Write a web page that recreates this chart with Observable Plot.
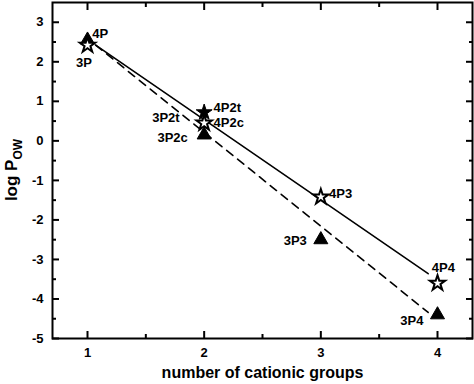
<!DOCTYPE html>
<html>
<head>
<meta charset="utf-8">
<script src="https://cdn.jsdelivr.net/npm/d3@7"></script>
<script src="https://cdn.jsdelivr.net/npm/@observablehq/plot@0.6"></script>
<style>
  html, body { margin: 0; padding: 0; background: #fff; }
</style>
</head>
<body>
<div id="chart"></div>
<script>
// ---- data ----
const groups = [1, 2, 3, 4];                       // number of cationic groups
const tri3P = [2.55, 0.15, -2.5, -4.4];            // filled triangles (3P series)
const star4P = [2.42, 0.45, -1.42, -3.6];          // open stars (4P series)
const filledStarX = [2];                           // 4P2t
const filledStarY = [0.72];
const solidFitX = [1.07, 3.92];                    // solid fit line end points
const solidFitY = [2.42, -3.36];
const dashedFitX = [1.07, 3.92];                   // dashed fit line end points
const dashedFitY = [2.42, -4.34];

const labelsStartText = ["4P", "4P2t", "4P2c", "4P3"];
const labelsStartX = [1.04, 2.08, 2.08, 3.07];
const labelsStartY = [2.70, 0.83, 0.45, -1.34];
const labelsEndText = ["3P2t", "3P2c", "3P3"];
const labelsEndX = [1.79, 1.86, 2.88];
const labelsEndY = [0.58, 0.08, -2.53];
const labelsMidText = ["3P", "4P4", "3P4"];
const labelsMidX = [0.97, 4.05, 3.78];
const labelsMidY = [1.97, -3.2, -4.55];

const xTicks = [1, 2, 3, 4];
const xMinor = [1.5, 2.5, 3.5];
const yTicks = [-5, -4, -3, -2, -1, 0, 1, 2, 3];
const yMinor = [-4.5, -3.5, -2.5, -1.5, -0.5, 0.5, 1.5, 2.5];

const xLabel = "number of cationic groups";
const yLabelMain = "log P";
const yLabelSub = "OW";

// ---- build tables ----
const pts = (xs, ys) => xs.map((x, i) => ({x, y: ys[i]}));
const labs = (t, xs, ys) => t.map((s, i) => ({text: s, x: xs[i], y: ys[i]}));

const fontFamily = "Liberation Sans, Arial, sans-serif";
const textStyle = {fontWeight: "bold", fontSize: 13, fill: "black", fontFamily};
const noText = () => "";

// inward tick marks (no labels) on every side
const inwardTicks = [];
for (const side of ["bottom", "top"]) {
  inwardTicks.push(Plot.axisX({ticks: xTicks, anchor: side, tickSize: -7, tickFormat: noText, strokeWidth: 2, stroke: "black", label: null}));
  inwardTicks.push(Plot.axisX({ticks: xMinor, anchor: side, tickSize: -4, tickFormat: noText, strokeWidth: 2, stroke: "black", label: null}));
}
for (const side of ["left", "right"]) {
  inwardTicks.push(Plot.axisY({ticks: yTicks, anchor: side, tickSize: -7, tickFormat: noText, strokeWidth: 2, stroke: "black", label: null}));
  inwardTicks.push(Plot.axisY({ticks: yMinor, anchor: side, tickSize: -4, tickFormat: noText, strokeWidth: 2, stroke: "black", label: null}));
}

const plot = Plot.plot({
  width: 474,
  height: 384,
  marginLeft: 52,
  marginRight: 2,
  marginTop: 2,
  marginBottom: 46,
  style: {fontFamily, background: "white"},
  x: {domain: [0.7, 4.3]},
  y: {domain: [-5, 3.5]},
  marks: [
    Plot.frame({stroke: "black", strokeWidth: 2}),
    ...inwardTicks,
    Plot.axisX({ticks: xTicks, tickSize: 0, tickPadding: 9, tickFormat: d => String(d),
      fontSize: 13, fontWeight: "bold", fill: "black", label: null}),
    Plot.axisY({ticks: yTicks, tickSize: 0, tickPadding: 9, tickFormat: d => String(d),
      fontSize: 13, fontWeight: "bold", fill: "black", label: null}),
    Plot.line(pts(solidFitX, solidFitY), {x: "x", y: "y", stroke: "black", strokeWidth: 1.6}),
    Plot.line(pts(dashedFitX, dashedFitY), {x: "x", y: "y", stroke: "black", strokeWidth: 1.6, strokeDasharray: "8,6"}),
    Plot.dot(pts(groups, tri3P), {x: "x", y: "y", symbol: "triangle", r: 5.2, fill: "black", stroke: "black", strokeWidth: 1}),
    Plot.dot(pts(filledStarX, filledStarY), {x: "x", y: "y", symbol: "star", r: 5, fill: "black", stroke: "black", strokeWidth: 1}),
    Plot.dot(pts(groups, star4P), {x: "x", y: "y", symbol: "star", r: 4.8, fill: "white", stroke: "black", strokeWidth: 2}),
    Plot.text(labs(labelsStartText, labelsStartX, labelsStartY), {x: "x", y: "y", text: "text", textAnchor: "start", ...textStyle}),
    Plot.text(labs(labelsEndText, labelsEndX, labelsEndY), {x: "x", y: "y", text: "text", textAnchor: "end", ...textStyle}),
    Plot.text(labs(labelsMidText, labelsMidX, labelsMidY), {x: "x", y: "y", text: "text", textAnchor: "middle", ...textStyle}),
    Plot.text([xLabel], {frameAnchor: "bottom", dy: 34, text: d => d, fontSize: 16, fontWeight: "bold", fill: "black", lineAnchor: "middle", fontFamily})
  ]
});

// y-axis label with subscript
const ys = plot.scale("y");
const cy = (ys.range[0] + ys.range[1]) / 2;
const svg = d3.select(plot);
const t = svg.append("text")
  .attr("transform", `translate(17,${cy}) rotate(-90)`)
  .attr("text-anchor", "middle")
  .attr("font-size", 17)
  .attr("font-weight", "bold")
  .attr("font-family", fontFamily)
  .attr("fill", "black");
t.append("tspan").text(yLabelMain);
t.append("tspan").attr("font-size", 12).attr("dy", 5).text(yLabelSub);

document.getElementById("chart").appendChild(plot);
</script>
</body>
</html>
